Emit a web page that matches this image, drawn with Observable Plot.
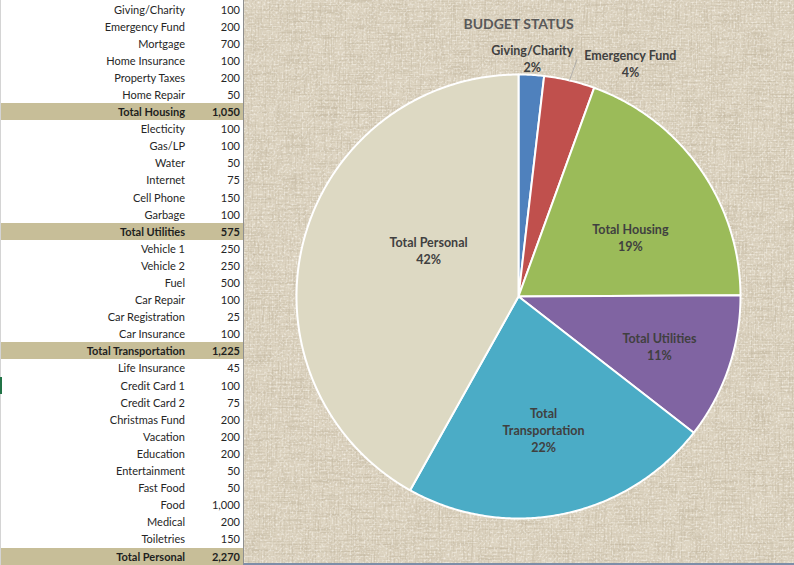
<!DOCTYPE html>
<html>
<head>
<meta charset="utf-8">
<script src="https://cdn.jsdelivr.net/npm/d3@7"></script>
<script src="https://cdn.jsdelivr.net/npm/@observablehq/plot@0.6"></script>
<style>
  html, body { margin: 0; padding: 0; background: #ffffff; }
  #wrap { display: flex; width: 794px; height: 565px; overflow: hidden; }
  #sheet { width: 243px; height: 565px; background: #fff; font-family: Lato, "Open Sans", sans-serif; font-size: 11px; color: #262626; padding-top: 0.5px; box-sizing: border-box; border-left: 1px solid #d4d4d4; }
  .row { display: flex; height: 17.1px; line-height: 17.1px; white-space: nowrap; box-sizing: border-box; }
  .row span { display: block; text-align: right; }
  .row .l { width: 184px; }
  .row .v { width: 55px; }
  .row.total { background: #c7be98; font-weight: bold; color: #1e1e1e; }
  .row.sel { border-left: 2px solid #217346; margin-left: -1px; }
  #chart {
    width: 551px; height: 565px; box-sizing: border-box;
    border-left: 1px solid #8f8f8f; border-bottom: 2px solid #7d8ea8;
    background-color: #ddd4c1;
    overflow: hidden;
  }
</style>
</head>
<body>
<div id="wrap">
  <div id="sheet"></div>
  <div id="chart"></div>
</div>
<script>
// ---- Table data ----
const itemNames = ["Giving/Charity","Emergency Fund","Mortgage","Home Insurance","Property Taxes","Home Repair","Total Housing",
  "Electicity","Gas/LP","Water","Internet","Cell Phone","Garbage","Total Utilities",
  "Vehicle 1","Vehicle 2","Fuel","Car Repair","Car Registration","Car Insurance","Total Transportation",
  "Life Insurance","Credit Card 1","Credit Card 2","Christmas Fund","Vacation","Education","Entertainment","Fast Food","Food","Medical","Toiletries","Total Personal"];
const itemValues = [100,200,700,100,200,50,1050,
  100,100,50,75,150,100,575,
  250,250,500,100,25,100,1225,
  45,100,75,200,200,200,50,50,1000,200,150,2270];
const totalRowNames = ["Total Housing","Total Utilities","Total Transportation","Total Personal"];
const selectedRowName = "Credit Card 1";

// ---- Pie data ----
const categories = ["Giving/Charity","Emergency Fund","Total Housing","Total Utilities","Total Transportation","Total Personal"];
const amounts = categories.map(c => itemValues[itemNames.indexOf(c)]);
const sliceLabels = ["Giving/Charity","Emergency Fund","Total Housing","Total Utilities","Total\nTransportation","Total Personal"];
const percentLabels = ["2%","4%","19%","11%","22%","42%"];
const sliceColors = ["#4f81bd","#c0504d","#9bbb59","#8064a2","#4bacc6","#ddd9c3"];

// label layout (angle nudge in degrees, radius as fraction of pie radius)
const labelNudge = [0, 12.3, 7.2, 0.6, 0.8, 12.7];
const labelRadius = [1.076, 1.167, 0.571, 0.673, 0.61, 0.456];
const leaderLine = [false, true, false, false, false, false];

// ---- Build table ----
const fmt = d3.format(",");
const sheet = document.getElementById("sheet");
itemNames.forEach((n, i) => {
  const row = document.createElement("div");
  row.className = "row" + (totalRowNames.includes(n) ? " total" : "") + (n === selectedRowName ? " sel" : "");
  const l = document.createElement("span"); l.className = "l"; l.textContent = n;
  const v = document.createElement("span"); v.className = "v"; v.textContent = fmt(itemValues[i]);
  if (n === selectedRowName) l.style.width = "183px";
  row.appendChild(l); row.appendChild(v);
  sheet.appendChild(row);
});

// ---- Burlap texture background ----
const tex = `<svg xmlns='http://www.w3.org/2000/svg' width='551' height='565'>
<filter id='h' x='0' y='0' width='100%' height='100%'><feTurbulence type='fractalNoise' baseFrequency='0.03 0.7' numOctaves='2' seed='4'/>
<feColorMatrix values='0 0 0 0 0.52  0 0 0 0 0.45  0 0 0 0 0.33  1.6 0 0 0 -0.72'/></filter>
<filter id='v' x='0' y='0' width='100%' height='100%'><feTurbulence type='fractalNoise' baseFrequency='0.7 0.03' numOctaves='2' seed='9'/>
<feColorMatrix values='0 0 0 0 0.55  0 0 0 0 0.48  0 0 0 0 0.36  1.6 0 0 0 -0.72'/></filter>
<filter id='w' x='0' y='0' width='100%' height='100%'><feTurbulence type='fractalNoise' baseFrequency='0.5 0.5' numOctaves='1' seed='2'/>
<feColorMatrix values='0 0 0 0 0.97  0 0 0 0 0.95  0 0 0 0 0.90  1.8 0 0 0 -0.85'/></filter>
<rect width='100%' height='100%' filter='url(#h)'/>
<rect width='100%' height='100%' filter='url(#v)'/>
<rect width='100%' height='100%' filter='url(#w)'/>
</svg>`;
document.getElementById("chart").style.backgroundImage = `url("data:image/svg+xml,${encodeURIComponent(tex)}")`;

// ---- Pie geometry ----
const arcs = d3.pie().sort(null).value(d => d)(amounts);
const slicePts = [];
arcs.forEach((p, i) => {
  slicePts.push({name: categories[i], x: 0, y: 0});
  const n = Math.max(2, Math.ceil((p.endAngle - p.startAngle) / (Math.PI / 360)));
  for (let k = 0; k <= n; k++) {
    const a = p.startAngle + (p.endAngle - p.startAngle) * k / n;
    slicePts.push({name: categories[i], x: Math.sin(a), y: Math.cos(a)});
  }
});
const labelData = arcs.map((p, i) => {
  const a = (p.startAngle + p.endAngle) / 2 + labelNudge[i] * Math.PI / 180;
  const r = labelRadius[i];
  return {x: r * Math.sin(a), y: r * Math.cos(a), text: sliceLabels[i] + "\n" + percentLabels[i]};
});
const leaders = arcs.map((p, i) => {
  const a = (p.startAngle + p.endAngle) / 2;
  return {x1: Math.sin(a), y1: Math.cos(a), x2: 1.10 * Math.sin(a + 0.01), y2: 1.10 * Math.cos(a + 0.01), show: leaderLine[i]};
}).filter(d => d.show);

const chart = Plot.plot({
  width: 550,
  height: 563,
  marginLeft: 52,
  marginRight: 54,
  marginTop: 74,
  marginBottom: 45,
  x: {domain: [-1, 1], axis: null},
  y: {domain: [-1, 1], axis: null},
  color: {domain: categories, range: sliceColors},
  style: {background: "transparent", fontFamily: "Lato, 'Open Sans', sans-serif", overflow: "visible"},
  marks: [
    Plot.line(slicePts, {x: "x", y: "y", z: "name", fill: "name", stroke: "white", strokeWidth: 2, curve: "linear-closed", strokeLinejoin: "round"}),
    Plot.link(leaders, {x1: "x1", y1: "y1", x2: "x2", y2: "y2", stroke: "#a6a6a6", strokeWidth: 0.8}),
    Plot.text(labelData, {x: "x", y: "y", text: "text", fontSize: 12.5, fontWeight: "bold", fill: "#404040", lineHeight: 1.36}),
    Plot.text(["BUDGET STATUS"], {frameAnchor: "top", dy: -55, fontSize: 14, fontWeight: "bold", fill: "#595959"})
  ]
});
document.getElementById("chart").appendChild(chart);
</script>
</body>
</html>
